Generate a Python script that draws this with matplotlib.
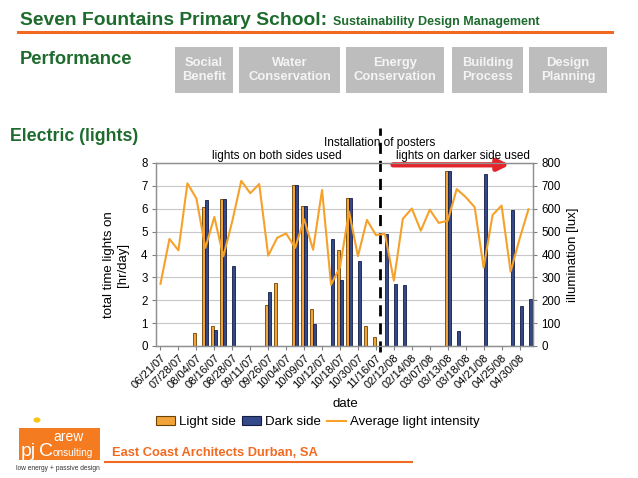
import matplotlib
matplotlib.use("Agg")
import matplotlib.pyplot as plt
from matplotlib.patches import Rectangle, Patch, Circle
from matplotlib.lines import Line2D
import numpy as np

plt.rcParams['font.family'] = ['Liberation Sans', 'DejaVu Sans']

# ---------------- data ----------------
tick_labels = ["06/21/07", "07/28/07", "08/04/07", "08/16/07", "08/28/07", "09/11/07",
               "09/26/07", "10/04/07", "10/09/07", "10/12/07", "10/18/07", "10/30/07",
               "11/16/07", "02/12/08", "02/14/08", "03/07/08", "03/13/08", "03/18/08",
               "04/21/08", "04/25/08", "04/30/08"]
light_side = [0, 0, 0, 0, 0.55, 6.08, 0.87, 6.42, 0, 0,
              0, 0, 1.78, 2.75, 0, 7.05, 6.12, 1.60, 0, 0,
              4.20, 6.45, 0, 0.87, 0.40, 0, 0, 0, 0, 0,
              0, 0, 7.64, 0, 0, 0, 0, 0, 0, 0,
              0, 0]
dark_side = [0, 0, 0, 0, 0, 6.37, 0.70, 6.42, 3.51, 0,
             0, 0, 2.38, 0, 0, 7.05, 6.12, 0.95, 0, 4.68,
             2.90, 6.45, 3.70, 0, 0, 4.88, 2.72, 2.67, 0, 0,
             0, 0, 7.64, 0.66, 0, 0, 7.52, 0, 0, 5.93,
             1.76, 2.04]
avg_light = [272, 468, 418, 711, 645, 429, 564, 392, 546, 722,
             668, 708, 395, 473, 492, 429, 554, 421, 682, 268,
             345, 588, 393, 551, 485, 490, 286, 556, 601, 504,
             596, 538, 548, 686, 651, 607, 343, 573, 614, 325,
             468, 598]
posters_installed_at = 24.5

# ---------------- figure ----------------
W, H = 638, 478
fig = plt.figure(figsize=(W / 100, H / 100), dpi=100)

def fx(x):
    return x / W

def fy(y):
    return 1 - y / H

green = '#1E6B2E'
orange = '#F26A21'

# header
fig.text(fx(20), fy(25), "Seven Fountains Primary School:", color=green,
         fontsize=13.9, fontweight='bold', va='baseline', ha='left')
fig.text(fx(333), fy(25), "Sustainability Design Management", color=green,
         fontsize=9, fontweight='bold', va='baseline', ha='left')
fig.add_artist(Line2D([fx(18), fx(612)], [fy(32), fy(32)], color=orange, lw=2.2))

fig.text(fx(20), fy(64), "Performance", color=green, fontsize=13.2,
         fontweight='bold', va='baseline', ha='left')

boxes = [(175, 233, "Social\nBenefit"), (239, 340, "Water\nConservation"),
         (346, 444, "Energy\nConservation"), (452, 523, "Building\nProcess"),
         (529, 607, "Design\nPlanning")]
for x0, x1, t in boxes:
    fig.add_artist(Rectangle((fx(x0), fy(93)), fx(x1) - fx(x0), fy(47) - fy(93),
                             facecolor='#BDBDBD', edgecolor='none'))
    fig.text(fx((x0 + x1) / 2), fy(70), t, color='#F4F4F4', fontsize=9.4,
             fontweight='bold', ha='center', va='center', linespacing=1.25)

fig.text(fx(10), fy(141), "Electric (lights)", color=green, fontsize=12.8,
         fontweight='bold', va='baseline', ha='left')

# ---------------- chart ----------------
left, right, top, bottom = 156, 533, 163, 346
ax = fig.add_axes([fx(left), fy(bottom), fx(right) - fx(left), fy(top) - fy(bottom)])
n = len(avg_light)
x = np.arange(n)
bw = 0.334
ax.bar(x - bw / 2, light_side, width=bw, color='#F2A33A', edgecolor='#6B4300',
       linewidth=0.6, label='Light side', zorder=2)
ax.bar(x + bw / 2, dark_side, width=bw, color='#34498A', edgecolor='#141E45',
       linewidth=0.6, label='Dark side', zorder=2)
ax.set_xlim(-0.5, n - 0.5)
ax.set_ylim(0, 8)
ax.set_yticks(range(0, 9))
ax.grid(axis='y', color='#C8C8C8', lw=0.8, zorder=0)
ax.set_axisbelow(True)
ax.set_xticks(np.arange(0, n, 2))
ax.set_xticklabels(tick_labels, rotation=45, ha='right', rotation_mode='anchor',
                   fontsize=8)
ax.tick_params(axis='x', length=3, color='#808080', pad=2)
ax.tick_params(axis='y', length=3, color='#808080', labelsize=8.3, pad=3)
for s in ax.spines.values():
    s.set_color('#909090')
    s.set_linewidth(0.9)

ax2 = ax.twinx()
ax2.plot(x, avg_light, color='#F5A12A', lw=1.5, label='Average light intensity', zorder=3)
ax2.set_ylim(0, 800)
ax2.set_yticks(range(0, 801, 100))
ax2.tick_params(axis='y', length=3, color='#808080', labelsize=8.3, pad=3)
for s in ax2.spines.values():
    s.set_color('#909090')
    s.set_linewidth(0.9)

# posters line
ax.axvline(posters_installed_at, ymin=-0.035, ymax=(bottom - 128) / (bottom - top),
           color='black', lw=2, ls=(0, (4, 2.5)), clip_on=False, zorder=5)

# arrow
ax.annotate("", xy=(38.9, 0.99), xytext=(25.9, 0.99),
            xycoords=('data', 'axes fraction'), textcoords=('data', 'axes fraction'),
            arrowprops=dict(arrowstyle='-|>', color='#E3242B', lw=3.8,
                            mutation_scale=16, shrinkA=0, shrinkB=0),
            annotation_clip=False, zorder=6)

fig.text(fx(380), fy(143), "Installation of posters", fontsize=8.5, ha='center', va='center')
fig.text(fx(277), fy(156), "lights on both sides used", fontsize=8.5, ha='center', va='center')
fig.text(fx(463), fy(156), "lights on darker side used", fontsize=8.5, ha='center', va='center')

fig.text(fx(116), fy(265), "total time lights on\n[hr/day]", rotation=90, fontsize=9.5,
         ha='center', va='center', linespacing=1.3)
fig.text(fx(573), fy(255), "illumination [lux]", rotation=90, fontsize=9.5,
         ha='center', va='center')
fig.text(fx(345), fy(404), "date", fontsize=9.5, ha='center', va='center')

handles = [Patch(facecolor='#F2A33A', edgecolor='#6B4300', lw=0.8),
           Patch(facecolor='#34498A', edgecolor='#141E45', lw=0.8),
           Line2D([0], [0], color='#F5A12A', lw=1.5)]
fig.legend(handles, ['Light side', 'Dark side', 'Average light intensity'],
           loc='center', bbox_to_anchor=(fx(318), fy(422)), ncol=3, frameon=False,
           fontsize=9.5, handlelength=1.45, handleheight=0.65, handletextpad=0.3,
           columnspacing=0.45, borderaxespad=0)

# ---------------- footer ----------------
fig.add_artist(Rectangle((fx(19), fy(460)), fx(100) - fx(19), fy(428) - fy(460),
                         facecolor='#F47B20', edgecolor='none'))
fig.add_artist(Circle((fx(37), fy(420)), 0.0055, transform=fig.transFigure,
                      facecolor='#F5C518', edgecolor='none'))
fig.text(fx(21), fy(456), "pj", color='white', fontsize=14, va='baseline', ha='left')
fig.text(fx(39), fy(456), "C", color='white', fontsize=14, va='baseline', ha='left')
fig.text(fx(53), fy(441), "arew", color='white', fontsize=10, va='baseline', ha='left')
fig.text(fx(53), fy(456), "onsulting", color='white', fontsize=7.2, va='baseline', ha='left')
fig.text(fx(58), fy(469), "low energy + passive design", color='#333333', fontsize=4.8,
         ha='center', va='center')

fig.text(fx(112), fy(456), "East Coast Architects Durban, SA", color=orange,
         fontsize=9.3, fontweight='bold', va='baseline', ha='left')
fig.add_artist(Line2D([fx(105), fx(412)], [fy(462), fy(462)], color=orange, lw=1.5))

fig.savefig("out.png", dpi=100)
